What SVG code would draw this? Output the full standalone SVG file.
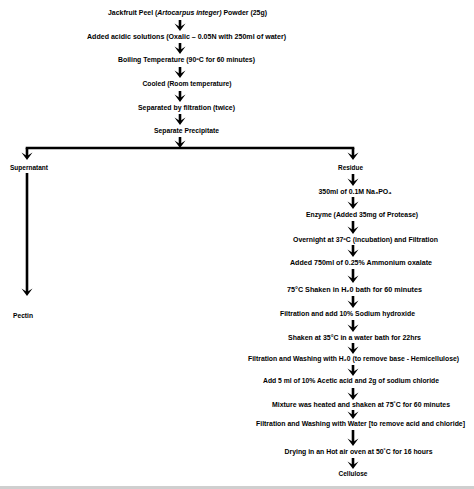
<svg xmlns="http://www.w3.org/2000/svg" xmlns:xlink="http://www.w3.org/1999/xlink" width="474" height="489" viewBox="0 0 474 489">
<style>
text{font-family:"Liberation Sans",Arial,sans-serif;font-size:6.6px;font-weight:bold;fill:#000;text-anchor:middle}
.st{stroke:#000;stroke-width:2.6;fill:none}
</style>
<defs>
<path id="h" d="M-5.5,-7.5 L0,0 L5.5,-7.5 L0,-4 Z" fill="#000"/>
</defs>
<rect width="474" height="489" fill="#fff"/>
<g id="connectors">
<line class="st" x1="180" y1="20" x2="180" y2="28"/><use xlink:href="#h" x="180" y="31"/>
<line class="st" x1="180" y1="43" x2="180" y2="51"/><use xlink:href="#h" x="180" y="54"/>
<line class="st" x1="180" y1="67" x2="180" y2="75"/><use xlink:href="#h" x="180" y="78"/>
<line class="st" x1="180" y1="91" x2="180" y2="99"/><use xlink:href="#h" x="180" y="102"/>
<line class="st" x1="180" y1="114" x2="180" y2="122"/><use xlink:href="#h" x="180" y="125"/>
<line class="st" x1="180" y1="137" x2="180" y2="145"/><use xlink:href="#h" x="180" y="148"/>
<line class="st" x1="25.7" y1="148" x2="354.3" y2="148"/>
<line class="st" x1="27" y1="148" x2="27" y2="157"/><use xlink:href="#h" x="27" y="160"/>
<line class="st" x1="353" y1="148" x2="353" y2="157"/><use xlink:href="#h" x="353" y="160"/>
<line class="st" x1="27" y1="173" x2="27" y2="293"/><use xlink:href="#h" x="27" y="296"/>
<line class="st" x1="353" y1="174" x2="353" y2="183"/><use xlink:href="#h" x="353" y="186"/>
<line class="st" x1="353" y1="197" x2="353" y2="206"/><use xlink:href="#h" x="353" y="209"/>
<line class="st" x1="353" y1="221" x2="353" y2="231"/><use xlink:href="#h" x="353" y="234"/>
<line class="st" x1="353" y1="245" x2="353" y2="254"/><use xlink:href="#h" x="353" y="257"/>
<line class="st" x1="353" y1="269" x2="353" y2="280"/><use xlink:href="#h" x="353" y="283"/>
<line class="st" x1="353" y1="296" x2="353" y2="305"/><use xlink:href="#h" x="353" y="308"/>
<line class="st" x1="353" y1="320" x2="353" y2="329"/><use xlink:href="#h" x="353" y="332"/>
<line class="st" x1="353" y1="343" x2="353" y2="351"/><use xlink:href="#h" x="353" y="354"/>
<line class="st" x1="353" y1="365" x2="353" y2="373"/><use xlink:href="#h" x="353" y="376"/>
<line class="st" x1="353" y1="388" x2="353" y2="397"/><use xlink:href="#h" x="353" y="400"/>
<line class="st" x1="353" y1="410" x2="353" y2="416"/><use xlink:href="#h" x="353" y="419"/>
<line class="st" x1="353" y1="430" x2="353" y2="443"/><use xlink:href="#h" x="353" y="446"/>
<line class="st" x1="353" y1="458" x2="353" y2="466"/><use xlink:href="#h" x="353" y="469"/>
</g>
<g id="n1"><text x="187.5" y="15.3" textLength="159" lengthAdjust="spacingAndGlyphs">Jackfruit Peel (<tspan font-style="italic">Artocarpus integer)</tspan> Powder (25g)</text></g>
<g id="n2"><text x="186.5" y="39.3" textLength="199" lengthAdjust="spacingAndGlyphs">Added  acidic solutions (Oxalic – 0.05N with  250ml of water)</text></g>
<g id="n3"><text x="186.5" y="62.3" textLength="137" lengthAdjust="spacingAndGlyphs">Boiling Temperature (90ºC for 60 minutes)</text></g>
<g id="n4"><text x="187" y="86.3" textLength="89" lengthAdjust="spacingAndGlyphs">Cooled (Room temperature)</text></g>
<g id="n5"><text x="186.5" y="110.3" textLength="97" lengthAdjust="spacingAndGlyphs">Separated by filtration (twice)</text></g>
<g id="n6"><text x="186.5" y="133.3" textLength="65" lengthAdjust="spacingAndGlyphs">Separate Precipitate</text></g>
<g id="n7"><text x="29" y="170.3" textLength="38" lengthAdjust="spacingAndGlyphs">Supernatant</text></g>
<g id="n8"><text x="350.5" y="170.3" textLength="25" lengthAdjust="spacingAndGlyphs">Residue</text></g>
<g id="n9"><text x="23" y="318.3" textLength="20" lengthAdjust="spacingAndGlyphs">Pectin</text></g>
<g id="n10"><text x="355" y="194.3" textLength="73" lengthAdjust="spacingAndGlyphs">350ml of  0.1M Na₃PO₄</text></g>
<g id="n11"><text x="362" y="217.3" textLength="112" lengthAdjust="spacingAndGlyphs">Enzyme (Added 35mg of Protease)</text></g>
<g id="n12"><text x="365.5" y="242.3" textLength="145" lengthAdjust="spacingAndGlyphs">Overnight  at 37ºC (incubation)  and Filtration</text></g>
<g id="n13"><text x="361" y="265.3" textLength="142" lengthAdjust="spacingAndGlyphs">Added  750ml of 0.25% Ammonium  oxalate</text></g>
<g id="n14"><text x="354.5" y="292.3" textLength="135" lengthAdjust="spacingAndGlyphs">75°C Shaken  in H₂0 bath for 60 minutes</text></g>
<g id="n15"><text x="347.5" y="316.3" textLength="135" lengthAdjust="spacingAndGlyphs">Filtration  and add 10% Sodium  hydroxide</text></g>
<g id="n16"><text x="354.5" y="340.3" textLength="133" lengthAdjust="spacingAndGlyphs">Shaken at 35°C in a water bath for 22hrs</text></g>
<g id="n17"><text x="353.5" y="361.3" textLength="211" lengthAdjust="spacingAndGlyphs">Filtration and Washing with H₂0 (to remove base - Hemicellulose)</text></g>
<g id="n18"><text x="351" y="383.3" textLength="176" lengthAdjust="spacingAndGlyphs">Add 5 ml of 10% Acetic acid and 2g of sodium chloride</text></g>
<g id="n19"><text x="361" y="407.3" textLength="178" lengthAdjust="spacingAndGlyphs">Mixture was heated and shaken at 75˚C for 60 minutes</text></g>
<g id="n20"><text x="360.5" y="426.3" textLength="209" lengthAdjust="spacingAndGlyphs">Filtration and Washing with Water [to remove acid and chloride]</text></g>
<g id="n21"><text x="358.5" y="454.3" textLength="148" lengthAdjust="spacingAndGlyphs">Drying in an Hot air oven at 50˚C for 16 hours</text></g>
<g id="n22"><text x="353" y="476.3" textLength="29" lengthAdjust="spacingAndGlyphs">Cellulose</text></g>
<rect x="0" y="486" width="474" height="3" fill="#cfcfcf"/>
</svg>
